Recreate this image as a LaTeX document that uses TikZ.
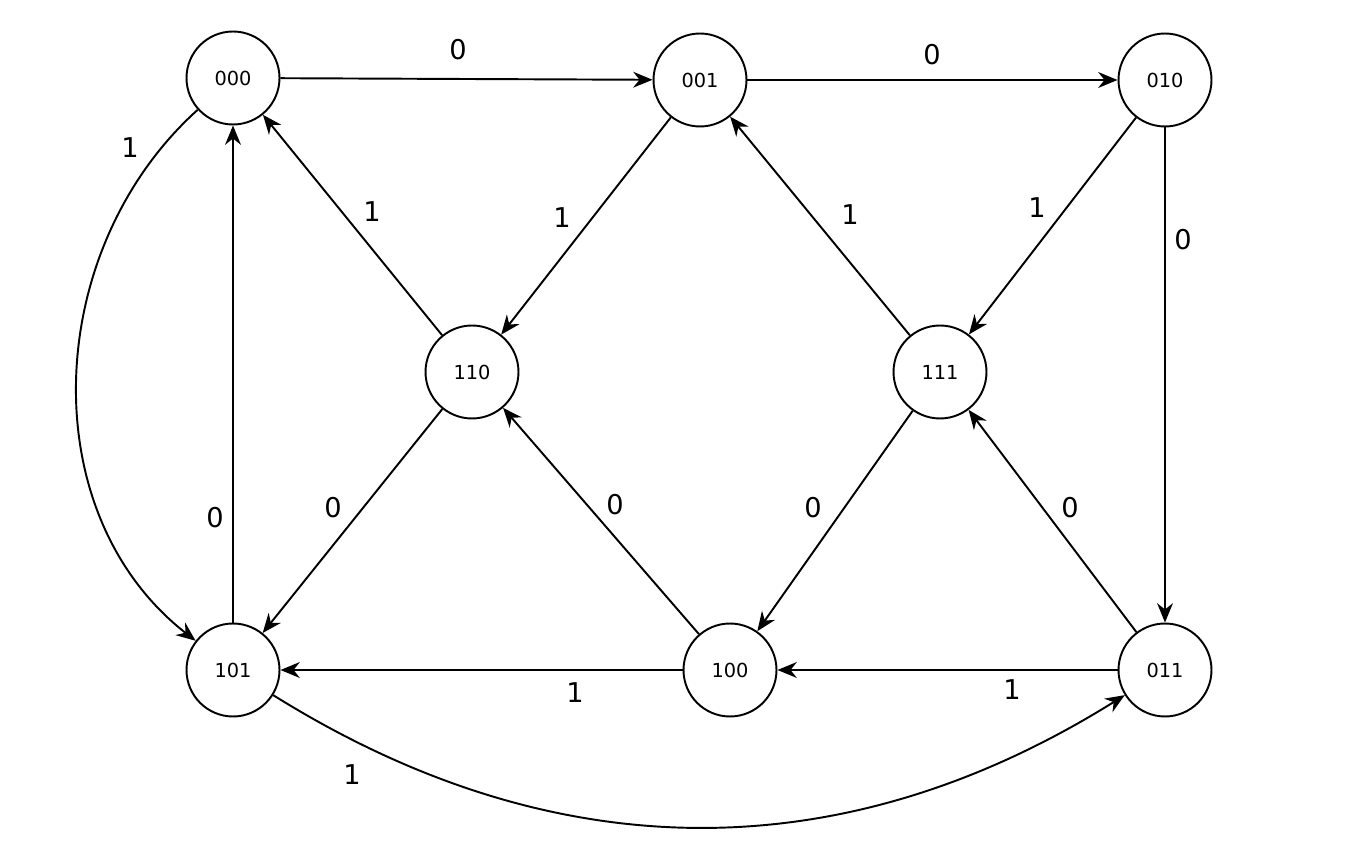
\documentclass[tikz,border=0pt]{standalone}
\usepackage{fontspec}
\setmainfont{DejaVu Sans}
\usetikzlibrary{arrows.meta}
\begin{document}
\begin{tikzpicture}[x=0.02cm,y=-0.02cm,
 st/.style={circle,draw,line width=1.1pt,minimum size=1.86cm,inner sep=0pt,font=\fontsize{11}{13}\selectfont},
 lb/.style={font=\fontsize{15.5}{18}\selectfont},
 e/.style={-{Stealth[length=11pt,width=9pt]},line width=1.1pt}]
\useasboundingbox (0,0) rectangle (1360,844);
\node[st] (n000) at (233,78) {000};
\node[st] (n001) at (700,80) {001};
\node[st] (n010) at (1165,80) {010};
\node[st] (n110) at (472,372) {110};
\node[st] (n111) at (940,372) {111};
\node[st] (n101) at (233,670) {101};
\node[st] (n100) at (730,670) {100};
\node[st] (n011) at (1165,670) {011};
\draw[e] (n000) -- (n001);
\draw[e] (n001) -- (n010);
\draw[e] (n000) to[out=222,in=142,looseness=1.0] (n101);
\draw[e] (n101) -- (n000);
\draw[e] (n110) -- (n000);
\draw[e] (n001) -- (n110);
\draw[e] (n111) -- (n001);
\draw[e] (n010) -- (n111);
\draw[e] (n010) -- (n011);
\draw[e] (n110) -- (n101);
\draw[e] (n100) -- (n110);
\draw[e] (n111) -- (n100);
\draw[e] (n011) -- (n111);
\draw[e] (n100) -- (n101);
\draw[e] (n011) -- (n100);
\draw[e] (n101) to[out=-32,in=212,looseness=1.0] (n011);
\node[lb] (l1) at (458,50) {0};
\node[lb] (l2) at (932,55) {0};
\node[lb] (l3) at (130,148) {1};
\node[lb] (l4) at (215,518) {0};
\node[lb] (l5) at (372,212) {1};
\node[lb] (l6) at (562,218) {1};
\node[lb] (l7) at (850,215) {1};
\node[lb] (l8) at (1037,208) {1};
\node[lb] (l9) at (1183,240) {0};
\node[lb] (l10) at (333,508) {0};
\node[lb] (l11) at (615,505) {0};
\node[lb] (l12) at (813,508) {0};
\node[lb] (l13) at (1070,508) {0};
\node[lb] (l14) at (575,693) {1};
\node[lb] (l15) at (1012,690) {1};
\node[lb] (l16) at (352,775) {1};
\end{tikzpicture}
\end{document}
